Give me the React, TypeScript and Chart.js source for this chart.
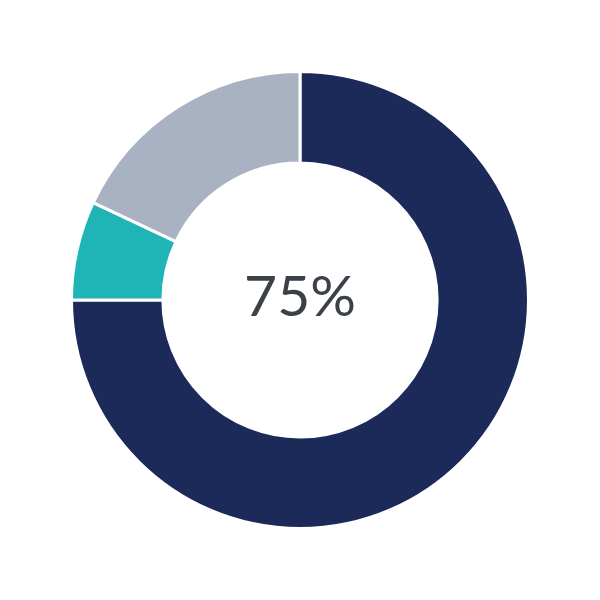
import React, { useEffect, useRef } from "react";
import { Chart, registerables } from "chart.js";

Chart.register(...registerables);

const labels = ["Completed", "In progress", "Remaining"];
const values = [75, 7, 18];
const colors = ["#1c2a5a", "#1fb5b6", "#a8b2c2"];
const centerText = "75%";
const FONT = "57px Lato, sans-serif";

const centerTextPlugin = {
  id: "centerText",
  afterDraw(chart: any) {
    const { ctx, chartArea } = chart;
    const cx = (chartArea.left + chartArea.right) / 2;
    const cy = (chartArea.top + chartArea.bottom) / 2;
    ctx.save();
    ctx.font = FONT;
    ctx.fillStyle = "#3b4049";
    ctx.textAlign = "center";
    ctx.textBaseline = "middle";
    ctx.fillText(centerText, cx, cy - 2);
    ctx.restore();
  },
};

export default function App() {
  const ref = useRef<HTMLCanvasElement>(null);
  useEffect(() => {
    if (!ref.current) return;
    const chart = new Chart(ref.current, {
      type: "doughnut",
      data: {
        labels,
        datasets: [
          {
            data: values,
            backgroundColor: colors,
            borderColor: "#ffffff",
            borderWidth: 3,
          },
        ],
      },
      options: {
        animation: false,
        responsive: true,
        maintainAspectRatio: false,
        cutout: "60%",
        layout: { padding: 62 },
        plugins: { legend: { display: false }, tooltip: { enabled: false } },
      },
      plugins: [centerTextPlugin],
    });
    let alive = true;
    if ((document as any).fonts) {
      (document as any).fonts.load(FONT).then(() => {
        if (alive) chart.update();
      });
    }
    return () => {
      alive = false;
      chart.destroy();
    };
  }, []);
  return (
    <div style={{ width: 584, height: 584, position: "relative" }}>
      <canvas ref={ref} />
    </div>
  );
}
